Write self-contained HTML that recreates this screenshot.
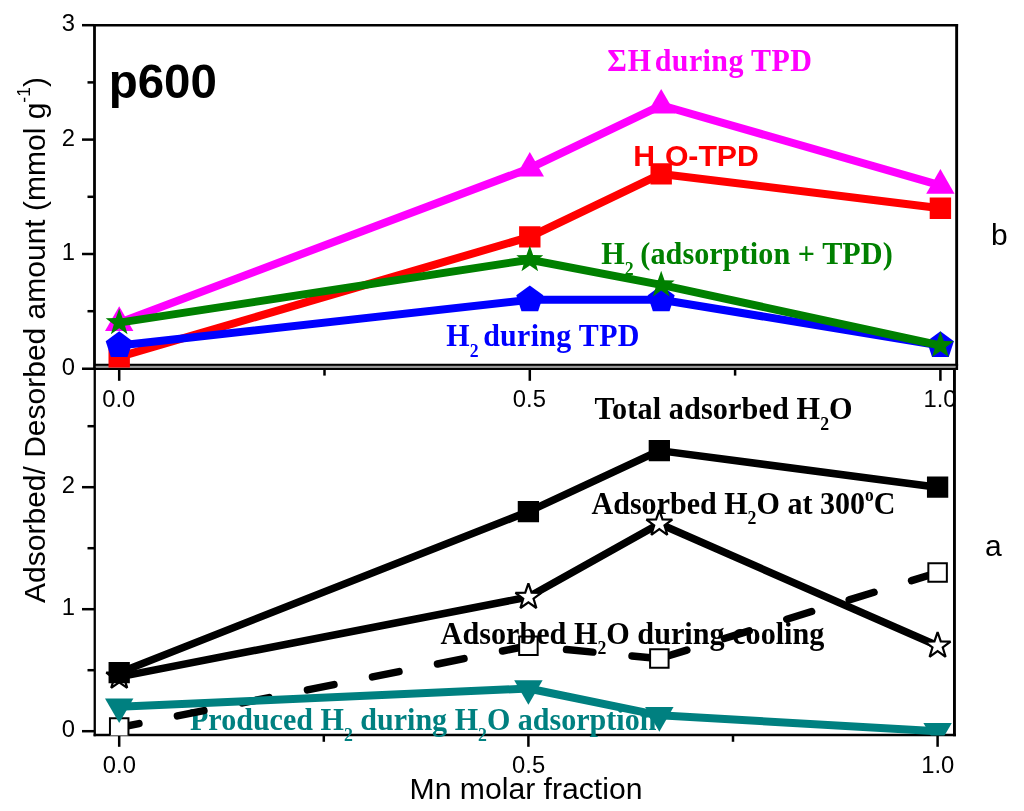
<!DOCTYPE html>
<html lang="en">
<head>
<meta charset="utf-8">
<title>p600 adsorbed / desorbed amount vs Mn molar fraction</title>
<style>
html,body{margin:0;padding:0;background:#fff;}
body{width:1024px;height:811px;overflow:hidden;}
svg{display:block;}
</style>
</head>
<body>
<svg width="1024" height="811" viewBox="0 0 1024 811">
<defs>
<clipPath id="clipT"><rect x="94.5" y="25" width="462.5" height="342"/><rect x="94.5" y="25" width="862.5" height="342.8"/></clipPath>
<clipPath id="clipB"><rect x="94.5" y="368" width="860" height="367.4"/></clipPath>
</defs>
<rect x="0" y="0" width="1024" height="811" fill="#ffffff"/>
<g stroke="#000" fill="none" stroke-width="2.8" stroke-linecap="butt">
<line x1="94.5" y1="23.95" x2="94.5" y2="370"/>
<line x1="93.1" y1="25.25" x2="958.1" y2="25.25" stroke-width="2.6"/>
<line x1="956.65" y1="23.95" x2="956.65" y2="369.9" stroke-width="2.9"/>
</g>
<g stroke="#000" fill="none" stroke-width="2.3">
<line x1="94.5" y1="364.8" x2="958.1" y2="364.8"/>
<line x1="82" y1="368.75" x2="955.6" y2="368.75"/>
</g>
<rect x="95.9" y="365.8" width="859.7" height="1.9" fill="#9a9a9a"/>
<g stroke="#000" fill="none">
<line x1="94.75" y1="368" x2="94.75" y2="736.3" stroke-width="2.3"/>
<line x1="954.45" y1="368" x2="954.45" y2="736.3" stroke-width="2.9"/>
<line x1="93.6" y1="735" x2="955.9" y2="735" stroke-width="2.6"/>
</g>
<g stroke="#000" fill="none" stroke-width="2.5">
<line x1="82" y1="25.2" x2="94.5" y2="25.2"/>
<line x1="82" y1="139.6" x2="94.5" y2="139.6"/>
<line x1="82" y1="254" x2="94.5" y2="254"/>
<line x1="87.5" y1="82.4" x2="94.5" y2="82.4"/>
<line x1="87.5" y1="196.8" x2="94.5" y2="196.8"/>
<line x1="87.5" y1="311.2" x2="94.5" y2="311.2"/>
<line x1="82" y1="487.2" x2="94.5" y2="487.2"/>
<line x1="82" y1="609.2" x2="94.5" y2="609.2"/>
<line x1="82" y1="731.2" x2="94.5" y2="731.2"/>
<line x1="87.5" y1="426.2" x2="94.5" y2="426.2"/>
<line x1="87.5" y1="548.2" x2="94.5" y2="548.2"/>
<line x1="87.5" y1="670.2" x2="94.5" y2="670.2"/>
<line x1="119.2" y1="369" x2="119.2" y2="380.8"/>
<line x1="529.8" y1="369" x2="529.8" y2="380.8"/>
<line x1="940.4" y1="369" x2="940.4" y2="380.8"/>
<line x1="324.5" y1="369" x2="324.5" y2="375.6"/>
<line x1="735.1" y1="369" x2="735.1" y2="375.6"/>
<line x1="119.2" y1="735" x2="119.2" y2="746.8"/>
<line x1="528.4" y1="735" x2="528.4" y2="746.8"/>
<line x1="937.6" y1="735" x2="937.6" y2="746.8"/>
<line x1="323.8" y1="735" x2="323.8" y2="741.8"/>
<line x1="733" y1="735" x2="733" y2="741.8"/>
</g>
<g font-family="'Liberation Sans', sans-serif" font-size="23.8" fill="#000">
<text x="74.9" y="31.3" text-anchor="end">3</text>
<text x="74.9" y="145.7" text-anchor="end">2</text>
<text x="74.9" y="260.1" text-anchor="end">1</text>
<text x="74.9" y="374.5" text-anchor="end">0</text>
<text x="74.9" y="493.3" text-anchor="end">2</text>
<text x="74.9" y="615.3" text-anchor="end">1</text>
<text x="74.9" y="737.3" text-anchor="end">0</text>
<text x="118.8" y="406.6" text-anchor="middle">0.0</text>
<text x="119.4" y="773.2" text-anchor="middle">0.0</text>
<text x="529.4" y="406.6" text-anchor="middle">0.5</text>
<text x="528.6" y="773.2" text-anchor="middle">0.5</text>
<text x="940" y="406.6" text-anchor="middle">1.0</text>
<text x="937.8" y="773.2" text-anchor="middle">1.0</text>
</g>
<g font-family="'Liberation Sans', sans-serif" font-size="30" fill="#000">
<text x="409.6" y="799" font-size="30.15">Mn molar fraction</text>
<text transform="translate(45.2,602.9) rotate(-90)">Adsorbed/ Desorbed amount (mmol g<tspan font-size="17.5" dy="-15.4">-1</tspan><tspan dy="15.4">)</tspan></text>
<text x="991" y="244.8">b</text>
<text x="985" y="555.8">a</text>
</g>
<text font-family="'Liberation Sans', sans-serif" font-weight="bold" font-size="47.5" x="108.7" y="97.6" fill="#000">p600</text>
<g font-family="'Liberation Serif', serif" font-weight="bold">
<text transform="translate(607.2,71.3) scale(1,1.035)" font-size="30" fill="#ff00ff"><tspan letter-spacing="0.9">ΣH</tspan><tspan dx="-5" letter-spacing="0.38"> during TPD</tspan></text>
<text transform="translate(601.3,264) scale(1,1.035)" font-size="30.2" fill="#008000">H<tspan font-size="17.8" dy="10.14">2</tspan><tspan dy="-10.14" dx="-1" letter-spacing="0.06"> (adsorption + TPD)</tspan></text>
<text transform="translate(446.3,346.4) scale(1,1.035)" font-size="30" fill="#0000ff">H<tspan font-size="17.8" dy="10.14">2</tspan><tspan dy="-10.14" dx="-3.2" letter-spacing="0.3"> during TPD</tspan></text>
<text transform="translate(190,730) scale(1,1.035)" font-size="30.05" fill="#008080">Produced H<tspan font-size="17.8" dy="10.14">2</tspan><tspan dy="-10.14"> during H</tspan><tspan font-size="17.8" dy="10.14">2</tspan><tspan dy="-10.14">O adsorption</tspan></text>
</g>
<text font-family="'Liberation Sans', sans-serif" font-weight="bold" font-size="30.2" x="633.2" y="166.3" fill="#ff0000">H<tspan font-size="17.8" dy="10.4">2</tspan><tspan dy="-10.4">O-TPD</tspan></text>
<g clip-path="url(#clipT)">
<polyline points="119.2,322.64 529.8,168.2 661.19,105.28 940.4,185.36" fill="none" stroke="#ff00ff" stroke-width="8" stroke-linejoin="round"/>
<polygon points="119.2,306.34 133.4,330.94 105,330.94" fill="#ff00ff"/>
<polygon points="529.8,151.9 544,176.5 515.6,176.5" fill="#ff00ff"/>
<polygon points="661.19,88.98 675.39,113.58 646.99,113.58" fill="#ff00ff"/>
<polygon points="940.4,169.06 954.6,193.66 926.2,193.66" fill="#ff00ff"/>
<polyline points="119.2,356.96 529.8,236.84 661.19,173.92 940.4,208.24" fill="none" stroke="#ff0000" stroke-width="8" stroke-linejoin="round"/>
<polygon points="108.5,346.26 129.9,346.26 129.9,367.66 108.5,367.66" fill="#ff0000"/>
<polygon points="519.1,226.14 540.5,226.14 540.5,247.54 519.1,247.54" fill="#ff0000"/>
<polygon points="650.49,163.22 671.89,163.22 671.89,184.62 650.49,184.62" fill="#ff0000"/>
<polygon points="929.7,197.54 951.1,197.54 951.1,218.94 929.7,218.94" fill="#ff0000"/>
<polyline points="119.2,345.52 529.8,299.76 661.19,299.76 940.4,345.52" fill="none" stroke="#0000ff" stroke-width="8" stroke-linejoin="round"/>
<polygon points="119.2,331.32 132.71,341.13 127.55,357.01 110.85,357.01 105.69,341.13" fill="#0000ff"/>
<polygon points="529.8,285.56 543.31,295.37 538.15,311.25 521.45,311.25 516.29,295.37" fill="#0000ff"/>
<polygon points="661.19,285.56 674.7,295.37 669.54,311.25 652.85,311.25 647.69,295.37" fill="#0000ff"/>
<polygon points="940.4,331.32 953.91,341.13 948.75,357.01 932.05,357.01 926.89,341.13" fill="#0000ff"/>
<polyline points="119.2,322.64 529.8,259.72 661.19,284.89 940.4,345.52" fill="none" stroke="#008000" stroke-width="8" stroke-linejoin="round"/>
<polygon points="119.2,308.44 122.54,318.04 132.71,318.25 124.6,324.4 127.55,334.13 119.2,328.32 110.85,334.13 113.8,324.4 105.69,318.25 115.86,318.04" fill="#008000"/>
<polygon points="529.8,245.52 533.14,255.12 543.31,255.33 535.2,261.48 538.15,271.21 529.8,265.4 521.45,271.21 524.4,261.48 516.29,255.33 526.46,255.12" fill="#008000"/>
<polygon points="661.19,270.69 664.53,280.29 674.7,280.5 666.59,286.64 669.54,296.38 661.19,290.57 652.85,296.38 655.79,286.64 647.69,280.5 657.85,280.29" fill="#008000"/>
<polygon points="940.4,331.32 943.74,340.92 953.91,341.13 945.8,347.28 948.75,357.01 940.4,351.2 932.05,357.01 935,347.28 926.89,341.13 937.06,340.92" fill="#008000"/>
</g>
<g clip-path="url(#clipB)">
<polyline points="119.2,676.91 528.4,597 659.34,523.8 937.6,645.8" fill="none" stroke="#000" stroke-width="7.5" stroke-linejoin="round"/>
<polygon points="119.2,663.31 122.37,672.54 132.13,672.71 124.34,678.58 127.19,687.91 119.2,682.31 111.21,687.91 114.06,678.58 106.27,672.71 116.03,672.54" fill="#fff" stroke="#000" stroke-width="2.2" stroke-linejoin="miter" stroke-miterlimit="2"/>
<polygon points="528.4,583.4 531.57,592.63 541.33,592.8 533.54,598.67 536.39,608 528.4,602.4 520.41,608 523.26,598.67 515.47,592.8 525.23,592.63" fill="#fff" stroke="#000" stroke-width="2.2" stroke-linejoin="miter" stroke-miterlimit="2"/>
<polygon points="659.34,510.2 662.52,519.43 672.28,519.6 664.48,525.47 667.34,534.8 659.34,529.2 651.35,534.8 654.21,525.47 646.41,519.6 656.17,519.43" fill="#fff" stroke="#000" stroke-width="2.2" stroke-linejoin="miter" stroke-miterlimit="2"/>
<polygon points="937.6,632.2 940.77,641.43 950.53,641.6 942.74,647.47 945.59,656.8 937.6,651.2 929.61,656.8 932.46,647.47 924.67,641.6 934.43,641.43" fill="#fff" stroke="#000" stroke-width="2.2" stroke-linejoin="miter" stroke-miterlimit="2"/>
<polyline points="119.2,672.64 528.4,511.6 659.34,450.6 937.6,487.2" fill="none" stroke="#000" stroke-width="7.5" stroke-linejoin="round"/>
<polygon points="108.55,661.99 129.85,661.99 129.85,683.29 108.55,683.29" fill="#000"/>
<polygon points="517.75,500.95 539.05,500.95 539.05,522.25 517.75,522.25" fill="#000"/>
<polygon points="648.69,439.95 669.99,439.95 669.99,461.25 648.69,461.25" fill="#000"/>
<polygon points="926.95,476.55 948.25,476.55 948.25,497.85 926.95,497.85" fill="#000"/>
<line x1="119.2" y1="727.54" x2="528.4" y2="645.8" stroke="#000" stroke-width="7.5" stroke-linecap="round" stroke-dasharray="27 39.3" stroke-dashoffset="6.9"/>
<line x1="528.4" y1="645.8" x2="659.34" y2="658.61" stroke="#000" stroke-width="7.5" stroke-linecap="round" stroke-dasharray="26.5 39.3" stroke-dashoffset="27.5"/>
<line x1="659.34" y1="658.61" x2="937.6" y2="572.6" stroke="#000" stroke-width="7.5" stroke-linecap="round" stroke-dasharray="26 39.3" stroke-dashoffset="62.5"/>
<polygon points="109.95,718.29 128.45,718.29 128.45,736.79 109.95,736.79" fill="#fff" stroke="#000" stroke-width="2"/>
<polygon points="519.15,636.55 537.65,636.55 537.65,655.05 519.15,655.05" fill="#fff" stroke="#000" stroke-width="2"/>
<polygon points="650.09,649.36 668.59,649.36 668.59,667.86 650.09,667.86" fill="#fff" stroke="#000" stroke-width="2"/>
<polygon points="928.35,563.35 946.85,563.35 946.85,581.85 928.35,581.85" fill="#fff" stroke="#000" stroke-width="2"/>
<polyline points="119.2,706.8 528.4,688.5 659.34,715.34 937.6,731.2" fill="none" stroke="#008080" stroke-width="8" stroke-linejoin="round"/>
<polygon points="119.2,723.1 133.4,698.5 105,698.5" fill="#008080"/>
<polygon points="528.4,704.8 542.6,680.2 514.2,680.2" fill="#008080"/>
<polygon points="659.34,731.64 673.54,707.04 645.14,707.04" fill="#008080"/>
<polygon points="937.6,747.5 951.8,722.9 923.4,722.9" fill="#008080"/>
</g>
<g font-family="'Liberation Serif', serif" font-weight="bold">
<text transform="translate(594.6,419.2) scale(1,1.035)" font-size="30.25" fill="#000"><tspan letter-spacing="0.1">Total adsorbed H</tspan><tspan font-size="17.8" dy="10.14">2</tspan><tspan dy="-10.14">O</tspan></text>
<text transform="translate(591.5,513.7) scale(1,1.035)" font-size="30.05" fill="#000">Adsorbed H<tspan font-size="17.8" dy="10.14">2</tspan><tspan dy="-10.14">O at 300</tspan><tspan font-size="17.5" dy="-11.8">o</tspan><tspan dy="11.8">C</tspan></text>
<text transform="translate(440.6,643.9) scale(1,1.035)" font-size="30.2" fill="#000">Adsorbed H<tspan font-size="17.8" dy="10.14">2</tspan><tspan dy="-10.14">O during cooling</tspan></text>
</g>
</svg>
</body>
</html>
